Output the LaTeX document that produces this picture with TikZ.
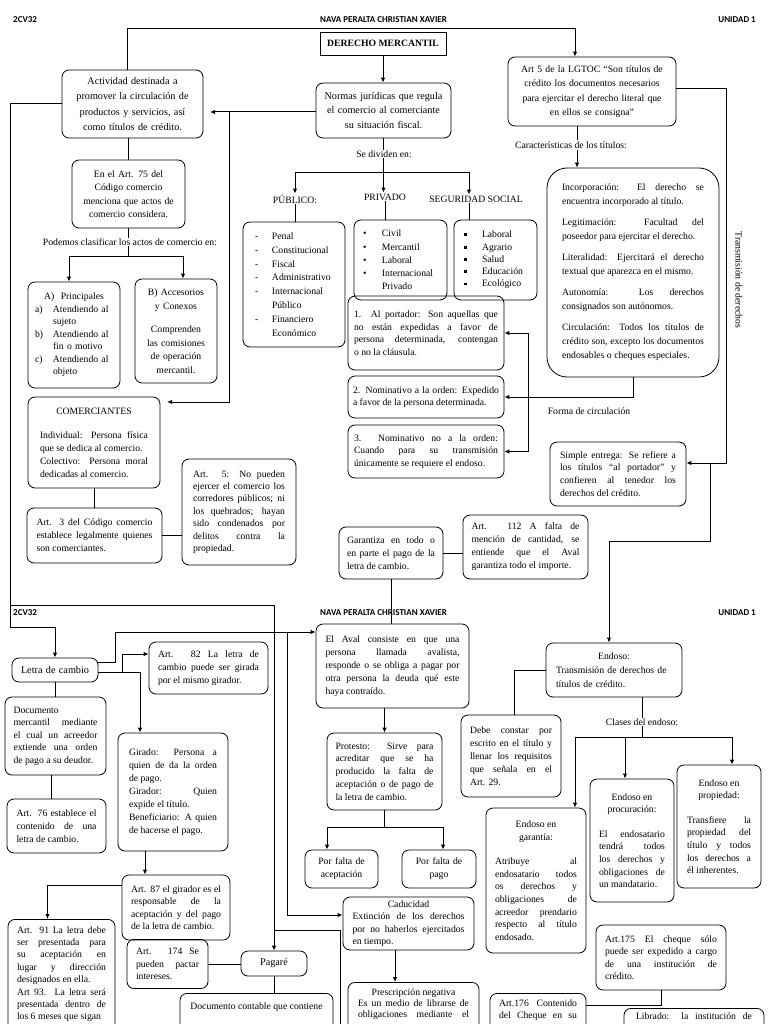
\documentclass[tikz,border=0pt]{standalone}
\usepackage{fontspec}
\setmainfont{Liberation Serif}
\newfontfamily\hdrfont{Carlito}
\usetikzlibrary{arrows.meta}
\newcommand{\lb}{\linebreak}
\newcommand{\fz}[1]{\fontsize{9.7}{#1}\selectfont\tolerance=9999\hyphenpenalty=10000\relax}
\newcommand{\fzb}[1]{\fontsize{10.2}{#1}\selectfont\tolerance=9999\hyphenpenalty=10000\relax}
\newcommand{\itm}[3]{\makebox[#1][l]{#2}#3}
\tikzset{
  rb/.style={draw, rounded corners=7pt, line width=0.8pt, inner sep=0pt, align=justify, font=\fz{13}},
  cb/.style={rb, align=center},
  rbt/.style={draw, rounded corners=7pt, line width=0.8pt, inner ysep=7pt, anchor=north, font=\fz{12}},
  lnk/.style={line width=1pt},
  arr/.style={line width=1pt, -{Latex[length=5pt,width=4.5pt]}},
  lbl/.style={font=\fz{12}, inner sep=1pt},
  lblw/.style={lbl, fill=white},
  hdr/.style={font=\hdrfont\bfseries\fontsize{9}{11}\selectfont, inner sep=0pt},
}
\begin{document}
\begin{tikzpicture}[x=1pt,y=-1pt]
\useasboundingbox (0,0) rectangle (768,1024);
\fill[white] (0,0) rectangle (768,1024);
\clip (0,0) rectangle (768,1024);

% headers
\node[hdr, anchor=west] (h1) at (13,20) {2CV32};
\node[hdr] (h2) at (383.5,20) {NAVA PERALTA CHRISTIAN XAVIER};
\node[hdr, anchor=east] (h3) at (756,20) {UNIDAD 1};
\node[hdr, anchor=west] (h4) at (13,613) {2CV32};
\node[hdr] (h5) at (383.5,613) {NAVA PERALTA CHRISTIAN XAVIER};
\node[hdr, anchor=east] (h6) at (756,613) {UNIDAD 1};

% top part
\node[draw, line width=0.8pt, minimum width=126pt, minimum height=23pt, inner sep=0pt, font=\bfseries\fontsize{9.7}{12}\selectfont] (dm) at (383,43.5) {DERECHO MERCANTIL};
\node[cb, minimum width=141pt, minimum height=68pt, text width=133pt, font=\fzb{15.5}] (act) at (132.5,104) {Actividad destinada a\\promover la circulación de\\productos y servicios, así\\como títulos de crédito.};
\node[cb, minimum width=135pt, minimum height=55pt, text width=129pt, font=\fzb{14.5}] (normas) at (383.5,110.5) {Normas jurídicas que regula\\el comercio al comerciante\\su situación fiscal.};
\node[cb, minimum width=168pt, minimum height=69pt, text width=162pt, font=\fz{14.5}] (art5) at (592,91.5) {Art 5 de la LGTOC “Son títulos de\\crédito los documentos necesarios\\para ejercitar el derecho literal que\\en ellos se consigna”};
\node[cb, minimum width=113pt, minimum height=68pt, text width=107pt, font=\fz{13.5}] (art75) at (128.5,194) {En el Art. 75 del\\Código comercio\\menciona que actos de\\comercio considera.};
\node[rb, align=left, minimum width=92pt, minimum height=106pt, text width=84pt, font=\fz{12.5}] (A) at (74,335) {\makebox[84pt]{A)\ \ Principales}\\\itm{21pt}{\hspace{3pt}a)}{Atendiendo al}\\\hspace*{21pt}sujeto\\\itm{21pt}{\hspace{3pt}b)}{Atendiendo al}\\\hspace*{21pt}fin o motivo\\\itm{21pt}{\hspace{3pt}c)}{Atendiendo al}\\\hspace*{21pt}objeto};
\node[cb, minimum width=82pt, minimum height=104pt, text width=76pt, font=\fz{13.5}] (B) at (176,331) {B) Accesorios\\y Conexos\\[10pt]Comprenden\\las comisiones\\de operación\\mercantil.};
\node[rb, align=left, minimum width=102pt, minimum height=125pt, text width=90pt, font=\fz{13.8}] (pub) at (294,284.5) {\itm{23pt}{\hspace{6pt}-}{Penal}\\\itm{23pt}{\hspace{6pt}-}{Constitucional}\\\itm{23pt}{\hspace{6pt}-}{Fiscal}\\\itm{23pt}{\hspace{6pt}-}{Administrativo}\\\itm{23pt}{\hspace{6pt}-}{Internacional}\\\hspace*{23pt}Público\\\itm{23pt}{\hspace{6pt}-}{Financiero}\\\hspace*{23pt}Económico};
\node[rb, align=left, minimum width=93pt, minimum height=80pt, text width=85pt, font=\fz{13.2}] (priv) at (400.5,260) {\itm{24pt}{\hspace{5pt}\textbullet}{Civil}\\\itm{24pt}{\hspace{5pt}\textbullet}{Mercantil}\\\itm{24pt}{\hspace{5pt}\textbullet}{Laboral}\\\itm{24pt}{\hspace{5pt}\textbullet}{Internacional}\\\hspace*{24pt}Privado};
\node[rb, align=left, minimum width=83pt, minimum height=80pt, text width=77pt, font=\fz{12.3}] (ss) at (495.5,260) {\itm{25pt}{\hspace{7pt}\rule[1.5pt]{2.8pt}{2.8pt}}{Laboral}\\\itm{25pt}{\hspace{7pt}\rule[1.5pt]{2.8pt}{2.8pt}}{Agrario}\\\itm{25pt}{\hspace{7pt}\rule[1.5pt]{2.8pt}{2.8pt}}{Salud}\\\itm{25pt}{\hspace{7pt}\rule[1.5pt]{2.8pt}{2.8pt}}{Educación}\\\itm{25pt}{\hspace{7pt}\rule[1.5pt]{2.8pt}{2.8pt}}{Ecológico}};
\node[rb, rounded corners=20pt, minimum width=172pt, minimum height=209pt, text width=142pt, font=\fz{14}] (car) at (633,272.5) {Incorporación: El derecho se\lb encuentra incorporado al título.\\[7pt]Legitimación: Facultad del\lb poseedor para ejercitar el derecho.\\[7pt]Literalidad: Ejercitará el derecho\lb textual que aparezca en el mismo.\\[7pt]Autonomía: Los derechos\lb consignados son autónomos.\\[7pt]Circulación: Todos los títulos de\lb crédito son, excepto los documentos\lb endosables o cheques especiales.};
\node[rb, minimum width=156pt, minimum height=74pt, text width=144pt, font=\fz{12.5}] (box1) at (426,333) {1. Al portador: Son aquellas que\lb no están expedidas a favor de\lb persona determinada, contengan\lb o no la cláusula.};
\node[rb, minimum width=156pt, minimum height=42pt, text width=146pt, font=\fz{12.5}] (box2) at (426,397) {2. Nominativo a la orden: Expedido\lb a favor de la persona determinada.};
\node[rb, minimum width=156pt, minimum height=53pt, text width=144pt, font=\fz{12.5}] (box3) at (426,451.5) {3. Nominativo no a la orden:\lb Cuando para su transmisión\lb únicamente se requiere el endoso.};
\node[rb, minimum width=136pt, minimum height=64pt, text width=116pt, font=\fz{12.8}] (simple) at (618,474) {Simple entrega: Se refiere a\lb los títulos “al portador” y\lb confieren al tenedor los\lb derechos del crédito.};
\node[rb, minimum width=132pt, minimum height=91pt, text width=108pt, font=\fz{12.8}] (com) at (94,442.5) {\makebox[108pt]{COMERCIANTES}\\[12pt]Individual: Persona física\lb que se dedica al comercio.\\Colectivo: Persona moral\lb dedicadas al comercio.};
\node[rb, minimum width=135pt, minimum height=55pt, text width=116pt, font=\fz{13}] (art3) at (94.5,535.5) {Art. 3 del Código comercio\lb establece legalmente quienes\lb son comerciantes.};
\node[rb, minimum width=114pt, minimum height=106pt, text width=92pt, font=\fz{12.4}] (np) at (239,512) {Art. 5: No pueden\lb ejercer el comercio los\lb corredores públicos; ni\lb los quebrados; hayan\lb sido condenados por\lb delitos contra la\lb propiedad.};
\node[rb, minimum width=104pt, minimum height=52pt, text width=88pt, font=\fz{13}] (gar) at (391,553) {Garantiza en todo o\lb en parte el pago de la\lb letra de cambio.};
\node[rb, minimum width=125pt, minimum height=64pt, text width=108pt, font=\fz{13}] (art112) at (525.5,547) {Art. 112 A falta de\lb mención de cantidad, se\lb entiende que el Aval\lb garantiza todo el importe.};

% lower part
\node[cb, minimum width=86pt, minimum height=24pt, text width=80pt, font=\fzb{12}] (letra) at (55,670) {Letra de cambio};
\node[rb, minimum width=119pt, minimum height=52pt, text width=101pt, font=\fz{13}] (art82) at (208.5,668) {Art. 82 La letra de\lb cambio puede ser girada\lb por el mismo girador.};
\node[rb, minimum width=153pt, minimum height=84pt, text width=134pt, font=\fz{13}] (aval) at (392.5,666) {El Aval consiste en que una\lb persona llamada avalista,\lb responde o se obliga a pagar por\lb otra persona la deuda qué este\lb haya contraído.};
\node[rb, align=left, minimum width=136pt, minimum height=54pt, text width=116pt, font=\fz{14}] (endoso) at (614,670) {\makebox[116pt]{Endoso:}\\Transmisión de derechos de\\títulos de crédito.};
\node[rb, minimum width=101pt, minimum height=78pt, text width=84pt, font=\fz{12.5}] (doc) at (55.5,736) {Documento\\mercantil mediante\lb el cual un acreedor\lb extiende una orden\lb de pago a su deudor.};
\node[rb, minimum width=110pt, minimum height=118pt, text width=88pt, font=\fz{13}] (girado) at (173,792) {Girado: Persona a\lb quien de da la orden\lb de pago.\\Girador: Quien\lb expide el título.\\Beneficiario: A quien\lb de hacerse el pago.};
\node[rb, minimum width=100pt, minimum height=82pt, text width=82pt, font=\fz{13}] (debe) at (511,756) {Debe constar por\lb escrito en el título y\lb llenar los requisitos\lb que señala en el\lb Art. 29.};
\node[rb, minimum width=115pt, minimum height=77pt, text width=98pt, font=\fz{12.8}] (prot) at (384.5,771.5) {Protesto: Sirve para\lb acreditar que se ha\lb producido la falta de\lb aceptación o de pago de\lb la letra de cambio.};
\node[rb, minimum width=99pt, minimum height=54pt, text width=80pt, font=\fz{13}] (art76) at (56.5,826) {Art. 76 establece el\lb contenido de una\lb letra de cambio.};
\node[cb, minimum width=73pt, minimum height=38pt, text width=67pt] (acept) at (341.5,869) {Por falta de\\aceptación};
\node[cb, minimum width=74pt, minimum height=38pt, text width=68pt] (pago) at (439,869) {Por falta de\\pago};
\node[rb, minimum width=100pt, minimum height=145pt, text width=82pt, font=\fz{12.6}] (egar) at (536,880.5) {\makebox[82pt]{Endoso en}\\\makebox[82pt]{garantía:}\\[12pt]Atribuye al\lb endosatario todos\lb os derechos y\lb obligaciones de\lb acreedor prendario\lb respecto al título\lb endosado.};
\node[rb, minimum width=84pt, minimum height=123pt, text width=66pt, font=\fz{12.6}] (eproc) at (632,840.5) {\makebox[66pt]{Endoso en}\\\makebox[66pt]{procuración:}\\[12pt]El endosatario\lb tendrá todos\lb los derechos y\lb obligaciones de\lb un mandatario.};
\node[rb, minimum width=84pt, minimum height=123pt, text width=64pt, font=\fz{12.6}] (eprop) at (719,826.5) {\makebox[64pt]{Endoso en}\\\makebox[64pt]{propiedad:}\\[12pt]Transfiere la\lb propiedad del\lb título y todos\lb los derechos a\lb él inherentes.};
\node[rb, minimum width=108pt, minimum height=65pt, text width=90pt, font=\fz{12.5}] (art87) at (176,907.5) {Art. 87 el girador es el\lb responsable de la\lb aceptación y del pago\lb de la letra de cambio.};
\node[rb, minimum width=131pt, minimum height=53pt, text width=112pt, font=\fz{12.5}] (cad) at (408.5,923.5) {\makebox[112pt]{Caducidad}\\Extinción de los derechos\lb por no haberlos ejercitados\lb en tiempo.};
\node[rb, minimum width=81pt, minimum height=49pt, text width=63pt, font=\fz{12.5}] (art174) at (167.5,964) {Art. 174 Se\lb pueden pactar\lb intereses.};
\node[cb, minimum width=66pt, minimum height=25pt, text width=60pt, font=\fzb{12}] (pagare) at (274,963.5) {Pagaré};
\node[rb, minimum width=130pt, minimum height=65pt, text width=112pt, font=\fz{12.5}] (art175) at (661,957.5) {Art.175 El cheque sólo\lb puede ser expedido a cargo\lb de una institución de\lb crédito.};
\node[rbt, inner xsep=9pt] (art91) at (61.5,919) {\parbox[t][150pt][t]{89pt}{\fz{12.4}Art. 91 La letra debe\lb ser presentada para\lb su aceptación en\lb lugar y dirección\lb designados en ella.\\Art 93. La letra será\lb presentada dentro de\lb los 6 meses que sigan}};
\node[rbt, inner xsep=6pt, inner ysep=9pt] (doccont) at (256.5,993) {\parbox[t][60pt][t]{141pt}{\fz{12}\centering Documento contable que contiene\par}};
\node[rbt, inner xsep=10pt, inner ysep=6pt] (presc) at (413.5,982) {\parbox[t][60pt][t]{111pt}{\fz{11.3}\makebox[111pt]{Prescripción negativa}\\Es un medio de librarse de\lb obligaciones mediante el\lb}};
\node[rbt, inner xsep=9pt, inner ysep=6pt] (art176) at (538,993) {\parbox[t][60pt][t]{78pt}{\fz{12}\parfillskip=0pt Art.176 Contenido\lb del Cheque en su\par}};
\node[rbt, inner xsep=12pt, inner ysep=4pt] (librado) at (694,1008) {\parbox[t][40pt][t]{116pt}{\fz{12}\parfillskip=0pt Librado: la institución de\par}};

% ---------- connectors ----------
\draw[arr] ([xshift=-5pt]act.north) -- ++(0,-41) -| ([xshift=-17pt]art5.north);
\draw[arr] (dm.south) -- (dm.south |- normas.north);
\coordinate (cm) at (210,112);
\draw[arr] (normas.west |- cm) -- (cm);
\coordinate (jc) at (229,112);
\coordinate (jc2) at (167,402);
\draw[arr] (jc) |- (jc2);
\coordinate (L1) at (10,627);
\draw[arr] (act.west) -| (L1) -| (letra.north);
\coordinate (L2) at (10,605);
\draw[arr] (L2) -| (pagare.north);
\coordinate (P1) at (274,930);
\coordinate (P2) at (340,1030);
\draw[lnk] (P1) -| (P2);
\draw[arr] ([yshift=8pt]letra.east) -- ++(17,0) |- ([yshift=34pt]aval.west);
\coordinate (J2) at (287,632);
\draw[arr] (J2) |- ([yshift=8.5pt]cad.west);
\draw[arr] ([yshift=-2pt]letra.east) -- ++(24,0) |- ([yshift=14pt]art82.west);
\draw[arr] ([yshift=-2pt]letra.east) -| ([xshift=-33pt]girado.north);
\draw[lnk] (letra.south) -- (letra.south |- doc.north);
\draw[lnk] ([xshift=-4pt]doc.south) -- ([xshift=-4pt]doc.south |- art76.north);
\draw[arr] ([xshift=-28pt]girado.south) -- ([xshift=-28pt]girado.south |- art87.north);
\draw[arr] ([yshift=22pt]art87.west) -| ([xshift=-14pt]art91.north);
\draw[lnk] (art174.east) -- (art174.east -| pagare.west);
\draw[lnk] (pagare.south) -- (pagare.south |- doccont.north);
\draw[lnk] (art3.east) -- (art3.east -| np.west);
\draw[lnk] (com.south) -- (com.south |- art3.north);
\draw[lnk] (art75.north) -- (art75.north |- act.south);
\draw[lnk] (art75.south) -- ++(0,28) coordinate (s1);
\draw[arr] (s1) -| ([xshift=-5pt]A.north);
\draw[arr] (s1) -| ([xshift=7pt]B.north);
\node[lblw] (lpod) at (130,242) {Podemos clasificar los actos de comercio en:};

\node[lbl] (pubL) at (295,199) {PÚBLICO:};
\node[lbl] (privL) at (385,197) {PRIVADO};
\node[lbl] (ssL) at (476,199) {SEGURIDAD SOCIAL};
\draw[lnk] (normas.south) -- ++(0,34.5) coordinate (s2);
\draw[arr] (s2) -| (pubL.north);
\draw[arr] (s2) -- (s2 |- privL.north);
\draw[arr] (s2) -| ([xshift=-7pt]ssL.north);
\node[lblw] (lsed) at (384,154) {Se dividen en:};
\draw[lnk] (pubL.south) -- (pubL.south |- pub.north);
\draw[lnk] (privL.south) -- (privL.south |- priv.north);
\draw[lnk] ([xshift=-7pt]ssL.south) -- ([xshift=-7pt]ssL.south |- ss.north);

\node[lbl] (carL) at (571,145) {Características de los títulos:};
\draw[lnk] ([xshift=-15pt]art5.south) -- ([xshift=-15pt]art5.south |- carL.north);
\draw[arr] ([xshift=-15pt]art5.south |- carL.south) -- ([xshift=-56pt]car.north);
\coordinate (R1) at (726,463);
\draw[arr] ([yshift=3pt]art5.east) -| (R1) -- (R1 -| simple.east);
\coordinate (R2) at (710,463);
\draw[arr] (R2) -- ++(0,78) -| ([xshift=-5pt]endoso.north);
\node[font=\fz{12}, rotate=-90] (trans) at (739,280) {Transmisión de derechos};
\draw[arr] (car.south) |- (box2.east);
\node[lbl] (lforma) at (589,411) {Forma de circulación};
\coordinate (B0) at (528,397);
\draw[arr] (B0) |- (box1.east);
\draw[arr] (B0) |- (box3.east);

\draw[lnk] (gar.east) -- (gar.east -| art112.west);
\draw[lnk] (gar.south) -- (gar.south |- aval.north);
\draw[arr] (prot.north |- aval.south) -- (prot.north);
\draw[lnk] (prot.south) -- ++(0,17) coordinate (s3);
\draw[arr] (s3) -| ([xshift=-14.5pt]acept.north);
\draw[arr] (s3) -| ([xshift=4pt]pago.north);
\draw[arr] ([xshift=-13.5pt]cad.south) -- ([xshift=-13.5pt]cad.south |- presc.north);
\draw[lnk] (endoso.west) -| ([xshift=3pt]debe.north);
\draw[lnk] ([xshift=28pt]endoso.south) -- ++(0,40) coordinate (s4);
\node[lblw] (lclases) at (642,722) {Clases del endoso:};
\draw[arr] (s4) -| ([xshift=39pt]egar.north);
\draw[arr] (s4) -| ([xshift=-7pt]eproc.north);
\draw[arr] (s4) -| ([xshift=13pt]eprop.north);
\draw[lnk] (art175.south) |- ([yshift=-12pt]art176.north east);
\end{tikzpicture}
\end{document}
